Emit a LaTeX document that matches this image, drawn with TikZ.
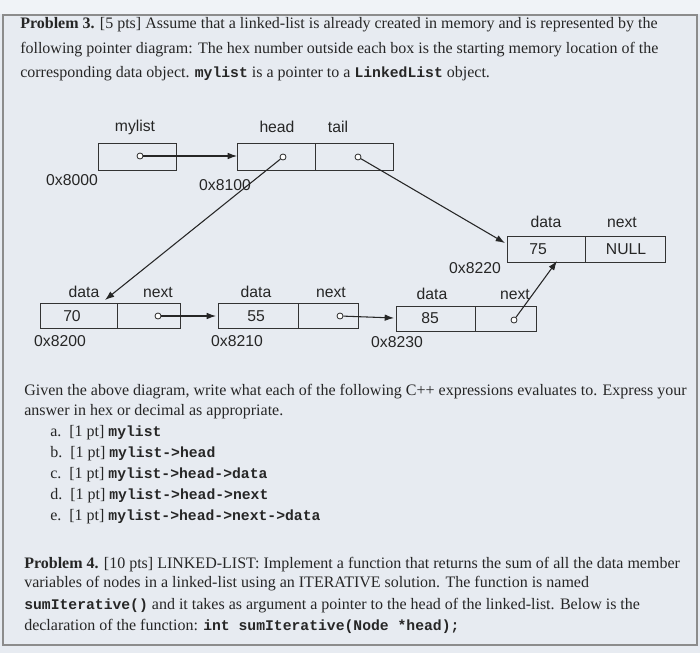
\documentclass[tikz,border=0pt]{standalone}
\usepackage{fontspec}
\setmainfont{Liberation Serif}
\setsansfont{Liberation Sans}
\setmonofont[Scale=0.92]{Liberation Mono}
\usetikzlibrary{arrows.meta}
\begin{document}
\begin{tikzpicture}[x=0.75pt,y=-0.75pt,
  cell/.style={draw=black!80,line width=0.6pt,fill=none},
  lab/.style={font=\sffamily\fontsize{11.8}{13}\selectfont,text=black!85},
  txt/.style={anchor=base west,inner sep=0,font=\fontsize{12}{14}\selectfont,text=black!85},
  ptr/.style={draw=black!85,line width=0.8pt,-{Latex[length=7pt,width=5pt]}},
  dot/.style={circle,draw=black!85,line width=0.6pt,inner sep=0,minimum size=4.5pt,fill=white}]
\fill[fill={rgb,255:red,231;green,235;blue,241}] (0,0) rectangle (700,653);
\fill[fill={rgb,255:red,240;green,243;blue,247}] (0,0) rectangle (700,14);
\draw[black!45,line width=1pt] (3,15) rectangle (697,645);
\useasboundingbox (0,0) rectangle (700,653);
% top text
\node[txt] (t1) at (20,28) {\textbf{Problem 3.} [5 pts] Assume that a linked-list is already created in memory and is represented by the};
\node[txt] (t2) at (20,53) {following pointer diagram: The hex number outside each box is the starting memory location of the};
\node[txt] (t3) at (20,77) {corresponding data object. \texttt{\textbf{mylist}} is a pointer to a \texttt{\textbf{LinkedList}} object.};
% boxes
\draw[cell] (98,143) rectangle (176,170);
\draw[cell] (237,143) rectangle (393,170); \draw[cell] (315,143)--(315,170);
\draw[cell] (507,236) rectangle (665,262); \draw[cell] (585,236)--(585,262);
\draw[cell] (40,303) rectangle (180,328); \draw[cell] (117,303)--(117,328);
\draw[cell] (218,303) rectangle (358,328); \draw[cell] (298,303)--(298,328);
\draw[cell] (396,306) rectangle (536,331); \draw[cell] (475,306)--(475,331);
% labels
\node[lab] (l1) at (135,127) {mylist};
\node[lab] (l2) at (277,127) {head};
\node[lab] (l3) at (338,127) {tail};
\node[lab] (a1) at (72,180) {0x8000};
\node[lab] (a2) at (225,185) {0x8100};
\node[lab] (l4) at (546,222) {data};
\node[lab] (l5) at (622,222) {next};
\node[lab] (v4) at (538,249) {75};
\node[lab] (v5) at (626,249) {NULL};
\node[lab] (a3) at (475,268) {0x8220};
\node[lab] (l6) at (84,292) {data};
\node[lab] (l7) at (158,292) {next};
\node[lab] (l8) at (256,292) {data};
\node[lab] (l9) at (331,292) {next};
\node[lab] (l10) at (432,294) {data};
\node[lab] (l11) at (515,294) {next};
\node[lab] (v1) at (72,316) {70};
\node[lab] (v2) at (256,316) {55};
\node[lab] (v3) at (430,318) {85};
\node[lab] (a4) at (60,341) {0x8200};
\node[lab] (a5) at (237,341) {0x8210};
\node[lab] (a6) at (397,342) {0x8230};
% pointers
\coordinate (e0) at (237,156);
\coordinate (e1) at (105,300);
\coordinate (e2) at (505,243);
\coordinate (e3) at (216,316);
\coordinate (e4) at (394,318);
\coordinate (e5) at (557,261);
\node[dot] (p0) at (140,156) {};
\node[dot] (p1) at (283,157) {};
\node[dot] (p2) at (358,157) {};
\node[dot] (p3) at (158,316) {};
\node[dot] (p4) at (340,316) {};
\node[dot] (p5) at (514,320) {};
\draw[ptr] (p0) -- (e0);
\draw[ptr] (p1) -- (e1);
\draw[ptr] (p2) -- (e2);
\draw[ptr] (p3) -- (e3);
\draw[ptr] (p4) -- (e4);
\draw[ptr] (p5) -- (e5);
% lower text
\node[txt] (b1) at (24,395) {Given the above diagram, write what each of the following C++ expressions evaluates to. Express your};
\node[txt] (b2) at (24,415) {answer in hex or decimal as appropriate.};
\node[txt] (c1) at (50,436) {a.\hspace{6pt}[1 pt] \texttt{\textbf{mylist}}};
\node[txt] (c2) at (50,457) {b.\hspace{6pt}[1 pt] \texttt{\textbf{mylist->head}}};
\node[txt] (c3) at (50,478) {c.\hspace{6pt}[1 pt] \texttt{\textbf{mylist->head->data}}};
\node[txt] (c4) at (50,499) {d.\hspace{6pt}[1 pt] \texttt{\textbf{mylist->head->next}}};
\node[txt] (c5) at (50,520) {e.\hspace{6pt}[1 pt] \texttt{\textbf{mylist->head->next->data}}};
\node[txt] (d1) at (24,568) {\textbf{Problem 4.} [10 pts] LINKED-LIST: Implement a function that returns the sum of all the data member};
\node[txt] (d2) at (24,587) {variables of nodes in a linked-list using an ITERATIVE solution. The function is named};
\node[txt] (d3) at (24,609) {\texttt{\textbf{sumIterative()}} and it takes as argument a pointer to the head of the linked-list. Below is the};
\node[txt] (d4) at (24,630) {declaration of the function: \texttt{\textbf{int sumIterative(Node *head);}}};
\end{tikzpicture}
\end{document}
